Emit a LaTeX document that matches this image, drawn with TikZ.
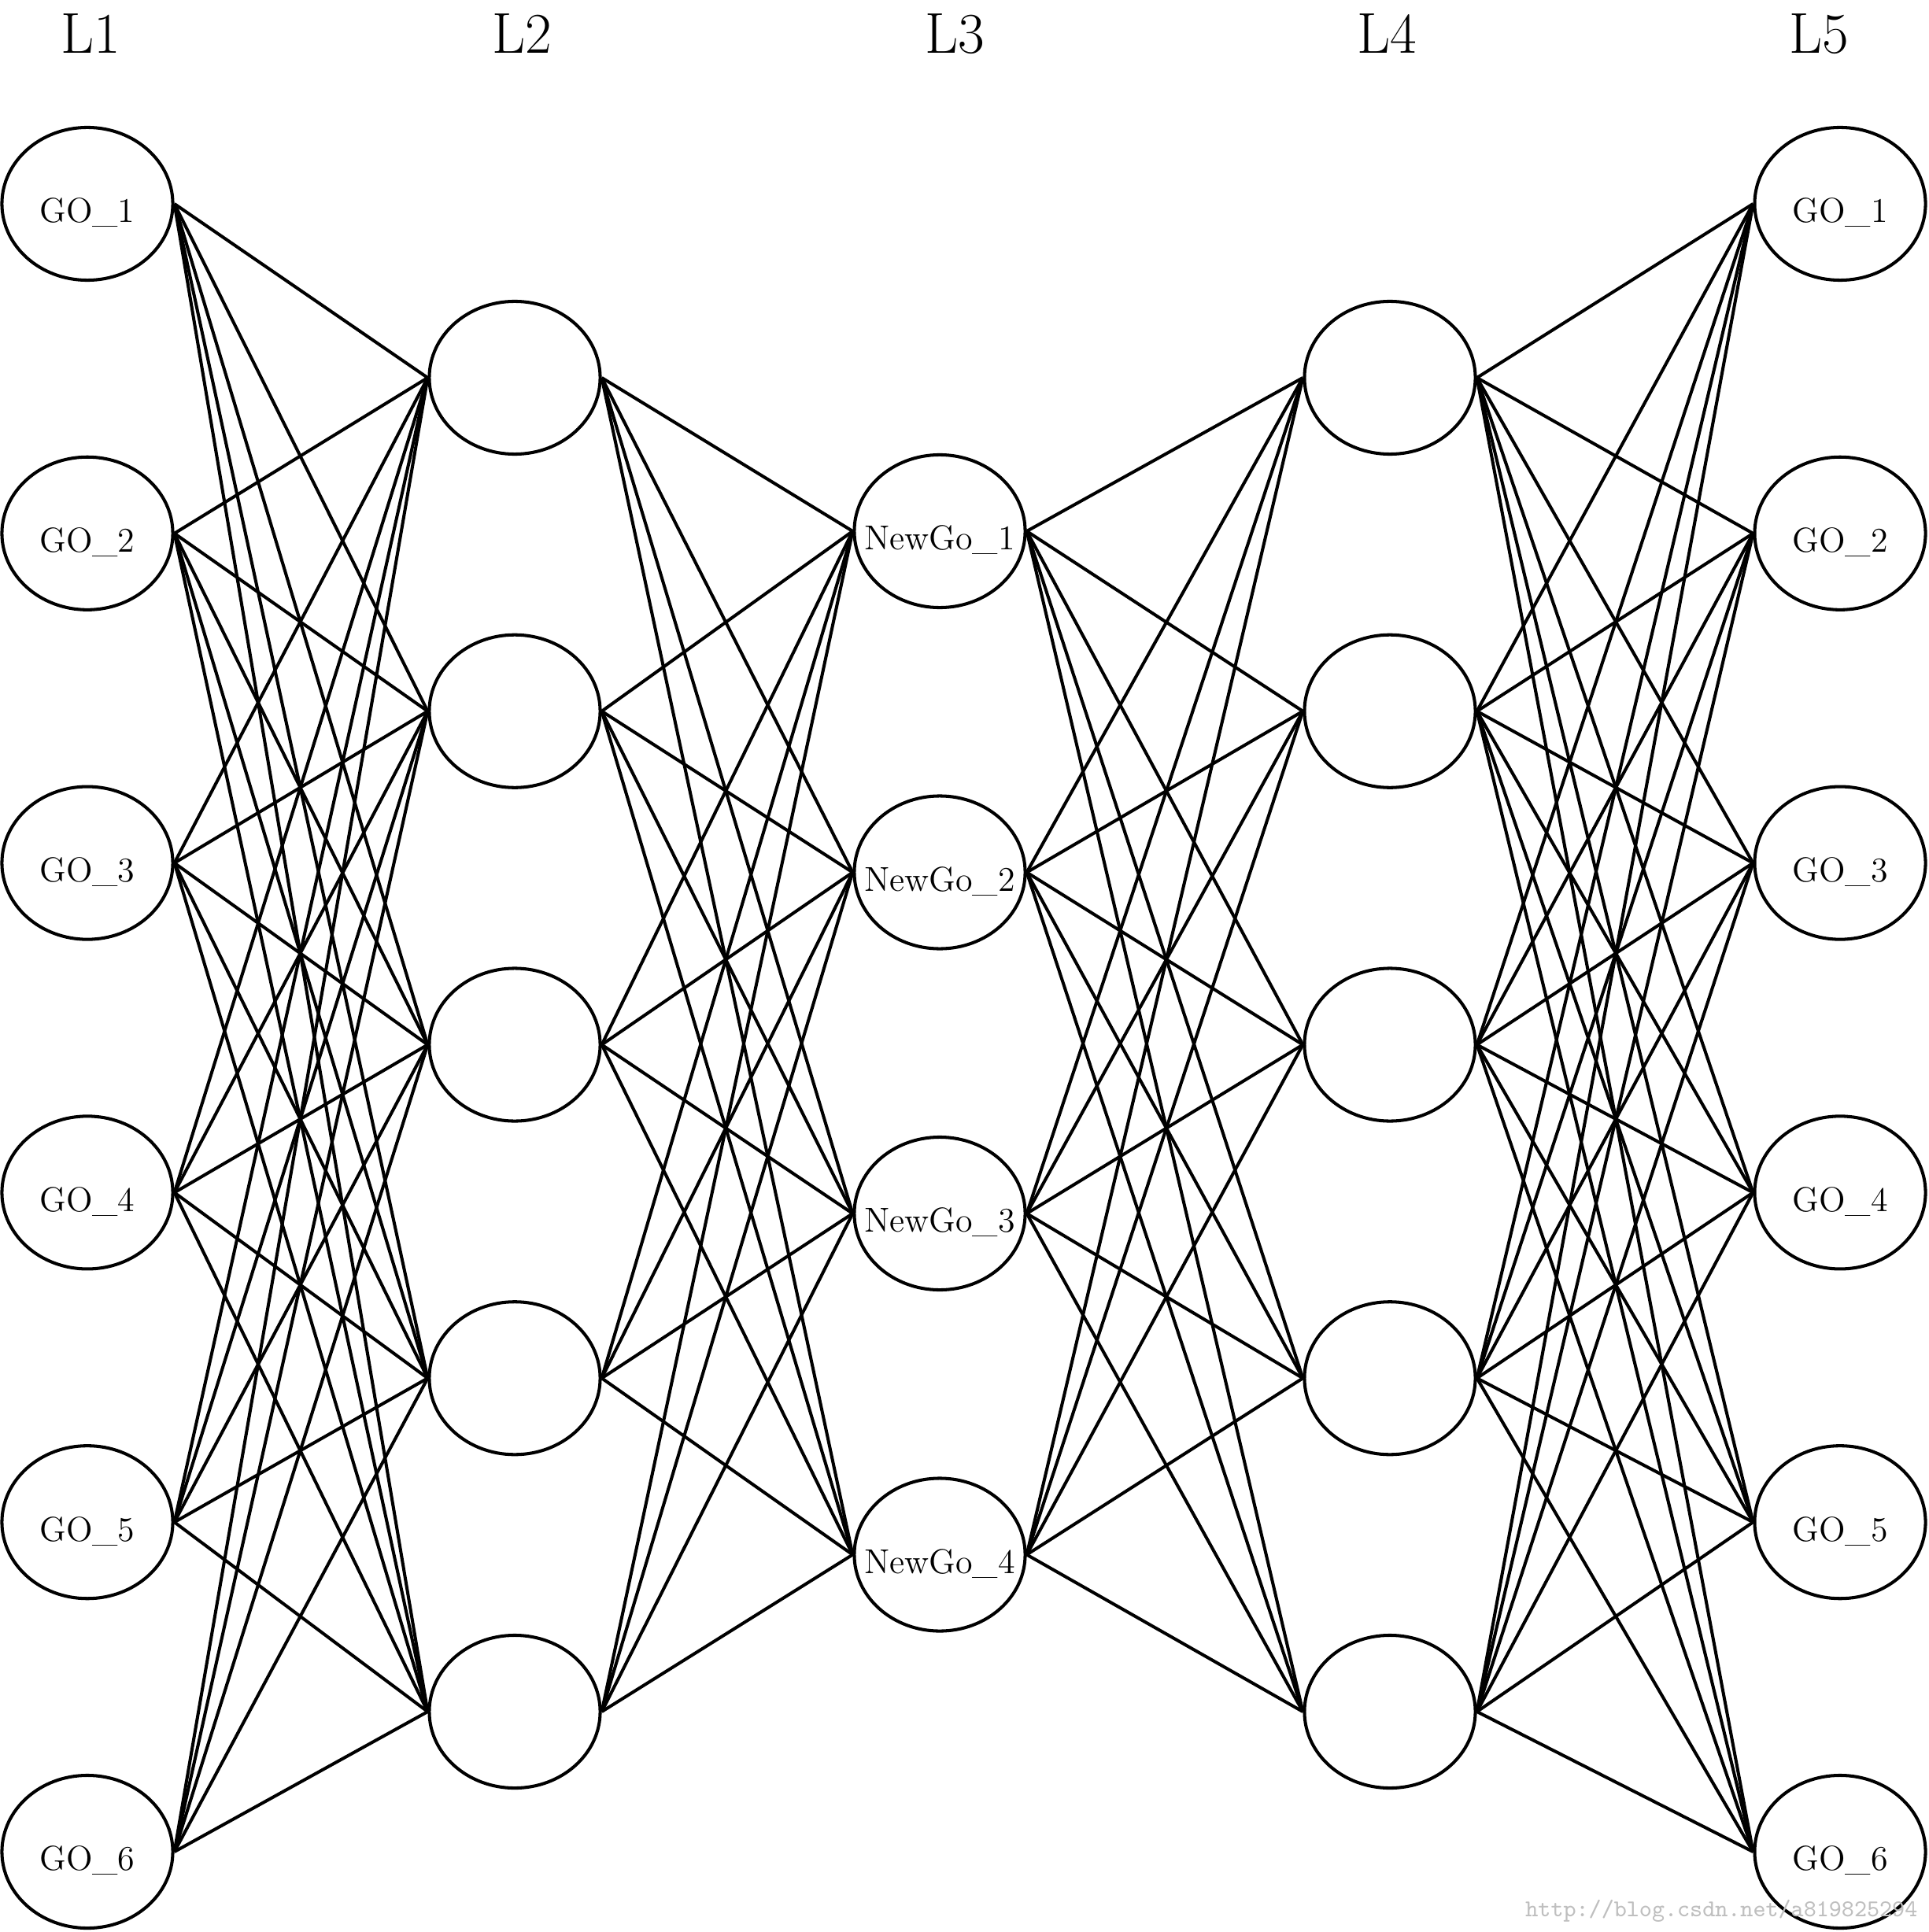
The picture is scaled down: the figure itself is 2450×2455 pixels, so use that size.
\documentclass[tikz,border=0pt]{standalone}
\usetikzlibrary{shapes.geometric}

\newcommand{\nlabel}[1]{\makebox[0pt]{#1}}

\tikzset{
  neuron/.style = {draw, ellipse, line width=1.15pt, minimum width=2.17cm,
                   minimum height=1.94cm, inner sep=0pt,
                   text height=13.6pt, text depth=0pt,
                   font=\fontsize{12.5}{15}\selectfont},
  layername/.style = {font=\fontsize{20.8}{25}\selectfont},
  link/.style = {line width=1.15pt}
}

\begin{document}
\begin{tikzpicture}[x=0.01cm, y=-0.01cm]
      \useasboundingbox (0,0) rectangle (2450,2455);
      % layer titles
      \node[layername] (t1) at (115,43) {L1};
      \node[layername] (t2) at (663,43) {L2};
      \node[layername] (t3) at (1213,43) {L3};
      \node[layername] (t4) at (1762,43) {L4};
      \node[layername] (t5) at (2311,43) {L5};
      % nodes
      \foreach \i in {1,...,6}{
        \node[neuron] (a\i) at (111,{259+(\i-1)*418.8}) {\nlabel{GO\_\i}};
        \node[neuron] (e\i) at (2338,{259+(\i-1)*418.8}) {\nlabel{GO\_\i}};
      }
      \foreach \i in {1,...,5}{
        \node[neuron] (b\i) at (654,{480+(\i-1)*423.75}) {};
        \node[neuron] (d\i) at (1766,{480+(\i-1)*423.75}) {};
      }
      \foreach \i in {1,...,4}{
        \node[neuron] (c\i) at (1194,{675+(\i-1)*433.5}) {\nlabel{NewGo\_\i}};
      }
      % links
      \foreach \i in {1,...,6}{
        \foreach \j in {1,...,5}{
          \draw[link] (a\i.east) -- (b\j.west);
          \draw[link] (d\j.east) -- (e\i.west);
        }
      }
      \foreach \i in {1,...,5}{
        \foreach \j in {1,...,4}{
          \draw[link] (b\i.east) -- (c\j.west);
          \draw[link] (c\j.east) -- (d\i.west);
        }
      }
      % watermark
      \node[anchor=south east, inner sep=0pt, text=black!25,
            font=\ttfamily\fontsize{8.7}{10}\selectfont] (wm) at (2437,2443)
            {http://blog.csdn.net/a819825294};
\end{tikzpicture}
\end{document}
